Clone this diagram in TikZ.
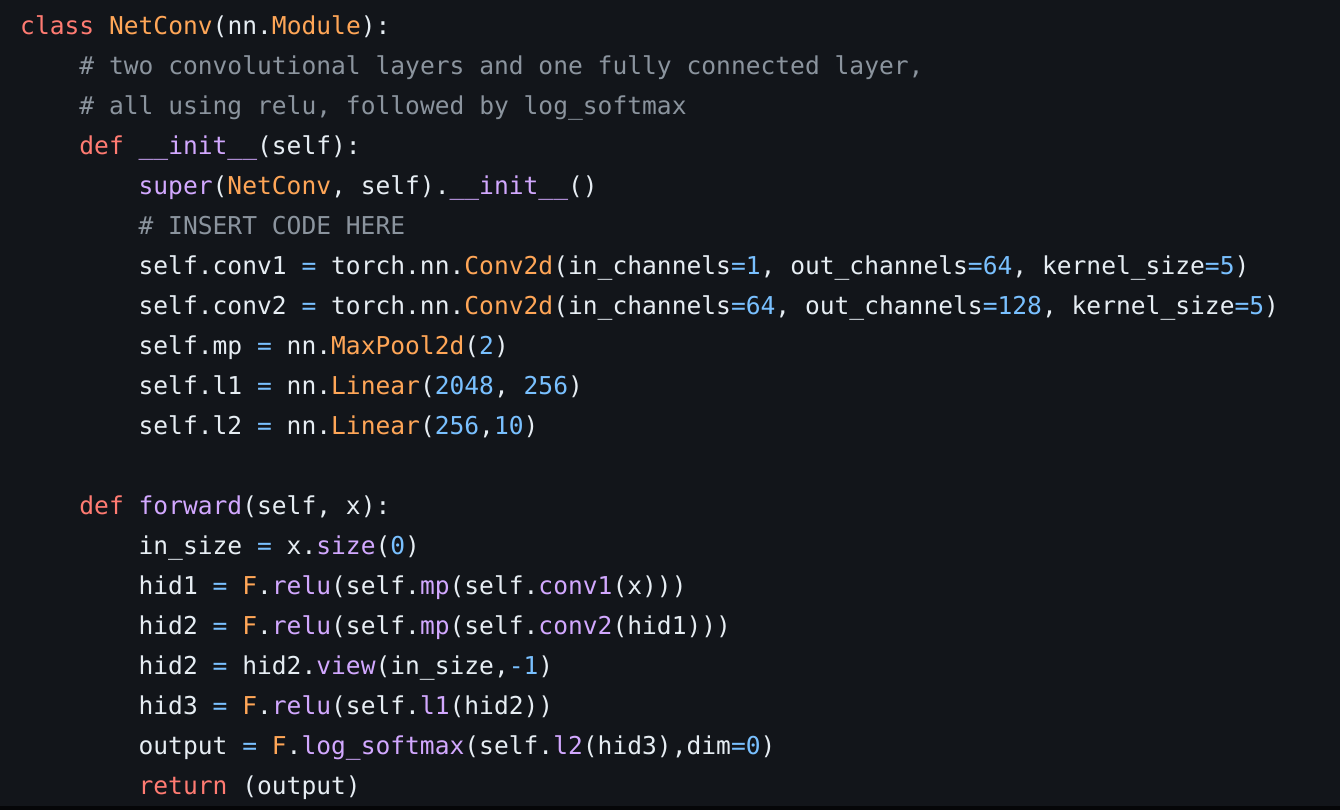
\documentclass[tikz,border=0pt]{standalone}
\usepackage{fontspec}
\setmonofont{DejaVu Sans Mono}
\definecolor{bg}{HTML}{12151A}
\definecolor{tx}{HTML}{E6EDF3}
\definecolor{kw}{HTML}{FF7B72}
\definecolor{cl}{HTML}{FFA657}
\definecolor{fn}{HTML}{D2A8FF}
\definecolor{nm}{HTML}{79C0FF}
\definecolor{cm}{HTML}{8B949E}
\newcommand\K[1]{\textcolor{kw}{#1}}
\newcommand\C[1]{\textcolor{cl}{#1}}
\newcommand\Fn[1]{\textcolor{fn}{#1}}
\newcommand\N[1]{\textcolor{nm}{#1}}
\newcommand\Cm[1]{\textcolor{cm}{#1}}
\newcommand\EQ{\textcolor{nm}{=}}
\begin{document}
\begin{tikzpicture}[x=1pt,y=1pt,
  code/.style={anchor=base west,inner sep=0pt,text=tx,font=\ttfamily\fontsize{24.6}{30}\selectfont}]
\fill[bg] (0,0) rectangle (1340,810);
\fill[black!70!bg] (0,0) rectangle (1340,4);
\useasboundingbox (0,0) rectangle (1340,810);
\def\ind{59.2}
\node[code] (l1) at (20,775) {\K{class} \C{NetConv}(nn.\C{Module}):};
\node[code] (l2) at (20+\ind,735) {\Cm{\# two convolutional layers and one fully connected layer,}};
\node[code] (l3) at (20+\ind,695) {\Cm{\# all using relu, followed by log\_softmax}};
\node[code] (l4) at (20+\ind,655) {\K{def} \Fn{\_\_init\_\_}(self):};
\node[code] (l5) at (20+2*\ind,615) {\Fn{super}(\C{NetConv}, self).\Fn{\_\_init\_\_}()};
\node[code] (l6) at (20+2*\ind,575) {\Cm{\# INSERT CODE HERE}};
\node[code] (l7) at (20+2*\ind,535) {self.conv1 \EQ{} torch.nn.\C{Conv2d}(in\_channels\EQ\N{1}, out\_channels\EQ\N{64}, kernel\_size\EQ\N{5})};
\node[code] (l8) at (20+2*\ind,495) {self.conv2 \EQ{} torch.nn.\C{Conv2d}(in\_channels\EQ\N{64}, out\_channels\EQ\N{128}, kernel\_size\EQ\N{5})};
\node[code] (l9) at (20+2*\ind,455) {self.mp \EQ{} nn.\C{MaxPool2d}(\N{2})};
\node[code] (l10) at (20+2*\ind,415) {self.l1 \EQ{} nn.\C{Linear}(\N{2048}, \N{256})};
\node[code] (l11) at (20+2*\ind,375) {self.l2 \EQ{} nn.\C{Linear}(\N{256},\N{10})};
\node[code] (l13) at (20+\ind,295) {\K{def} \Fn{forward}(self, x):};
\node[code] (l14) at (20+2*\ind,255) {in\_size \EQ{} x.\Fn{size}(\N{0})};
\node[code] (l15) at (20+2*\ind,215) {hid1 \EQ{} \C{F}.\Fn{relu}(self.\Fn{mp}(self.\Fn{conv1}(x)))};
\node[code] (l16) at (20+2*\ind,175) {hid2 \EQ{} \C{F}.\Fn{relu}(self.\Fn{mp}(self.\Fn{conv2}(hid1)))};
\node[code] (l17) at (20+2*\ind,135) {hid2 \EQ{} hid2.\Fn{view}(in\_size,\N{-1})};
\node[code] (l18) at (20+2*\ind,95) {hid3 \EQ{} \C{F}.\Fn{relu}(self.\Fn{l1}(hid2))};
\node[code] (l19) at (20+2*\ind,55) {output \EQ{} \C{F}.\Fn{log\_softmax}(self.\Fn{l2}(hid3),dim\EQ\N{0})};
\node[code] (l20) at (20+2*\ind,15) {\K{return} (output)};
\end{tikzpicture}
\end{document}
